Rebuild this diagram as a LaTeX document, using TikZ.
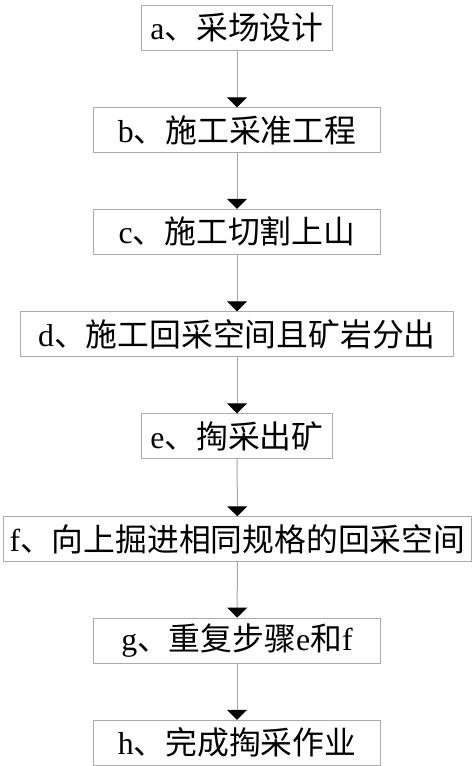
\documentclass[tikz,border=0pt]{standalone}
\usepackage{fontspec}
\setmainfont{Liberation Serif}
\newfontfamily\cjk{Noto Sans CJK SC}
\usetikzlibrary{arrows.meta}
\begin{document}
\begin{tikzpicture}[x=1bp,y=-1bp,
  stepbox/.style={draw=gray!65, line width=0.8bp, minimum height=45bp, inner sep=0pt,
    font=\fontsize{31.8bp}{34bp}\selectfont},
  conn/.style={draw=gray!70, line width=1bp, -{Triangle[width=20bp,length=10bp,color=black]}}]
\useasboundingbox (0,0) rectangle (474,766);
\node[stepbox, minimum width=190.6bp] (a) at (237,27.7) {a{\cjk 、采场设计}};
\node[stepbox, minimum width=287bp] (b) at (237,130.2) {b{\cjk 、施工采准工程}};
\node[stepbox, minimum width=287bp] (c) at (237,231.8) {c{\cjk 、施工切割上山}};
\node[stepbox, minimum width=432.6bp] (d) at (237,334.2) {d{\cjk 、施工回采空间且矿岩分出}};
\node[stepbox, minimum width=190.6bp] (e) at (237,436.3) {e{\cjk 、掏采出矿}};
\node[stepbox, minimum width=468.4bp] (f) at (237.5,539.2) {f{\cjk 、向上掘进相同规格的回采空间}};
\node[stepbox, minimum width=287bp] (g) at (237,640.5) {g{\cjk 、重复步骤}e{\cjk 和}f};
\node[stepbox, minimum width=287bp] (h) at (237,742.7) {h{\cjk 、完成掏采作业}};
\draw[conn] (a) -- (b);
\draw[conn] (b) -- (c);
\draw[conn] (c) -- (d);
\draw[conn] (d) -- (e);
\draw[conn] (e) -- (f);
\draw[conn] (f) -- (g);
\draw[conn] (g) -- (h);
\end{tikzpicture}
\end{document}
